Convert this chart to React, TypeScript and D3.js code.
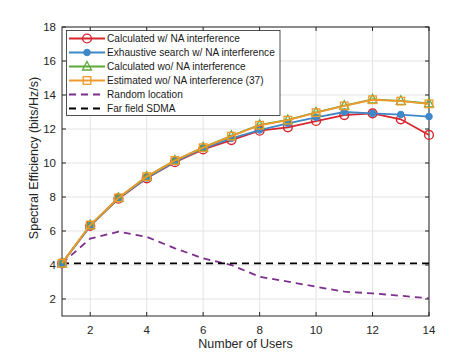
import React from "react";
import * as d3 from "d3";

const users = [1, 2, 3, 4, 5, 6, 7, 8, 9, 10, 11, 12, 13, 14];
const calcWithNA = [4.1, 6.3, 7.9, 9.1, 10.05, 10.8, 11.35, 11.9, 12.1, 12.47, 12.82, 12.92, 12.57, 11.65];
const exhaustiveWithNA = [4.1, 6.3, 7.92, 9.12, 10.08, 10.85, 11.45, 11.94, 12.33, 12.69, 13.0, 12.92, 12.85, 12.73];
const calcWoNA = [4.1, 6.35, 7.95, 9.2, 10.15, 10.92, 11.6, 12.24, 12.53, 12.98, 13.37, 13.74, 13.66, 13.5];
const estWoNA = [4.1, 6.35, 7.95, 9.2, 10.15, 10.9, 11.58, 12.22, 12.52, 12.96, 13.36, 13.72, 13.64, 13.48];
const randomLoc = [4.1, 5.55, 5.96, 5.66, 4.98, 4.39, 4.0, 3.31, 3.02, 2.72, 2.43, 2.33, 2.19, 2.04];
const farField = [4.1, 4.1, 4.1, 4.1, 4.1, 4.1, 4.1, 4.1, 4.1, 4.1, 4.1, 4.1, 4.1, 4.1];
const xTicks = [2, 4, 6, 8, 10, 12, 14];
const yTicks = [2, 4, 6, 8, 10, 12, 14, 16, 18];
const legendLabels = [
  "Calculated w/ NA interference",
  "Exhaustive search w/ NA interference",
  "Calculated wo/ NA interference",
  "Estimated wo/ NA interference (37)",
  "Random location",
  "Far field SDMA",
];

const W = 474, H = 355;
const L = 62, R = 429, T = 27, B = 316;
const font = "'Liberation Sans', Arial, sans-serif";

type S = { data: number[]; color: string; marker: string; dash?: string };

export default function App() {
  const x = d3.scaleLinear().domain([1, 14]).range([L, R]);
  const y = d3.scaleLinear().domain([1, 18]).range([B, T]);
  const line = d3.line<number>().x((_, i) => x(users[i])).y((d) => y(d));

  const series: S[] = [
    { data: randomLoc, color: "#7E2F8E", marker: "none", dash: "7,5" },
    { data: farField, color: "#000000", marker: "none", dash: "7,5" },
    { data: calcWithNA, color: "#D7262E", marker: "circle" },
    { data: exhaustiveWithNA, color: "#3E88C8", marker: "dot" },
    { data: calcWoNA, color: "#5DAA3A", marker: "triangle" },
    { data: estWoNA, color: "#F0992C", marker: "square" },
  ];
  const legendOrder = [2, 3, 4, 5, 0, 1];

  const marker = (m: string, cx: number, cy: number, c: string, k: string) => {
    if (m === "circle") return <circle key={k} cx={cx} cy={cy} r={4.4} fill="none" stroke={c} strokeWidth={1.4} />;
    if (m === "dot") return <circle key={k} cx={cx} cy={cy} r={3.3} fill={c} stroke={c} strokeWidth={1} />;
    if (m === "triangle")
      return <path key={k} d={`M${cx},${cy - 5} L${cx + 4.5},${cy + 3.5} L${cx - 4.5},${cy + 3.5} Z`} fill="none" stroke={c} strokeWidth={1.3} />;
    if (m === "square") return <rect key={k} x={cx - 3.8} y={cy - 3.8} width={7.6} height={7.6} fill="none" stroke={c} strokeWidth={1.3} />;
    return null;
  };

  return (
    <svg width={W} height={H} style={{ position: "absolute", left: 0, top: 0, background: "#fff" }} fontFamily={font}>
      <rect x={0} y={0} width={W} height={H} fill="#fff" />
      {xTicks.map((t) => (
        <line key={"gx" + t} x1={x(t)} x2={x(t)} y1={T} y2={B} stroke="#e3e3e3" strokeWidth={1} />
      ))}
      {yTicks.map((t) => (
        <line key={"gy" + t} x1={L} x2={R} y1={y(t)} y2={y(t)} stroke="#e3e3e3" strokeWidth={1} />
      ))}
      <rect x={L} y={T} width={R - L} height={B - T} fill="none" stroke="#262626" strokeWidth={1} />
      {xTicks.map((t) => (
        <g key={"tx" + t}>
          <line x1={x(t)} x2={x(t)} y1={B} y2={B - 4} stroke="#262626" />
          <line x1={x(t)} x2={x(t)} y1={T} y2={T + 4} stroke="#262626" />
          <text x={x(t)} y={B + 18} textAnchor="middle" fontSize={11.5} fill="#262626">{t}</text>
        </g>
      ))}
      {yTicks.map((t) => (
        <g key={"ty" + t}>
          <line x1={L} x2={L + 4} y1={y(t)} y2={y(t)} stroke="#262626" />
          <line x1={R} x2={R - 4} y1={y(t)} y2={y(t)} stroke="#262626" />
          <text x={L - 6} y={y(t) + 4} textAnchor="end" fontSize={11.5} fill="#262626">{t}</text>
        </g>
      ))}
      <text x={(L + R) / 2} y={348} textAnchor="middle" fontSize={12.5} fill="#262626">Number of Users</text>
      <text transform={`translate(38,${158}) rotate(-90)`} textAnchor="middle" fontSize={12.5} fill="#262626">
        Spectral Efficiency (bits/Hz/s)
      </text>
      {series.map((s, si) => (
        <g key={"s" + si}>
          <path d={line(s.data) || ""} fill="none" stroke={s.color} strokeWidth={1.8} strokeDasharray={s.dash} />
          {s.data.map((v, i) => marker(s.marker, x(users[i]), y(v), s.color, `m${si}-${i}`))}
        </g>
      ))}
      <rect x={66.5} y={30.5} width={213.5} height={85} fill="#fff" stroke="#262626" strokeWidth={0.8} />
      {legendOrder.map((si, i) => {
        const s = series[si];
        const ly = 38.5 + i * 14;
        return (
          <g key={"lg" + i}>
            <line x1={69} x2={105} y1={ly} y2={ly} stroke={s.color} strokeWidth={1.8} strokeDasharray={s.dash} />
            {marker(s.marker, 87, ly, s.color, "lm" + i)}
            <text x={107} y={ly + 3.8} fontSize={10.1} fill="#1a1a1a">{legendLabels[i]}</text>
          </g>
        );
      })}
    </svg>
  );
}
